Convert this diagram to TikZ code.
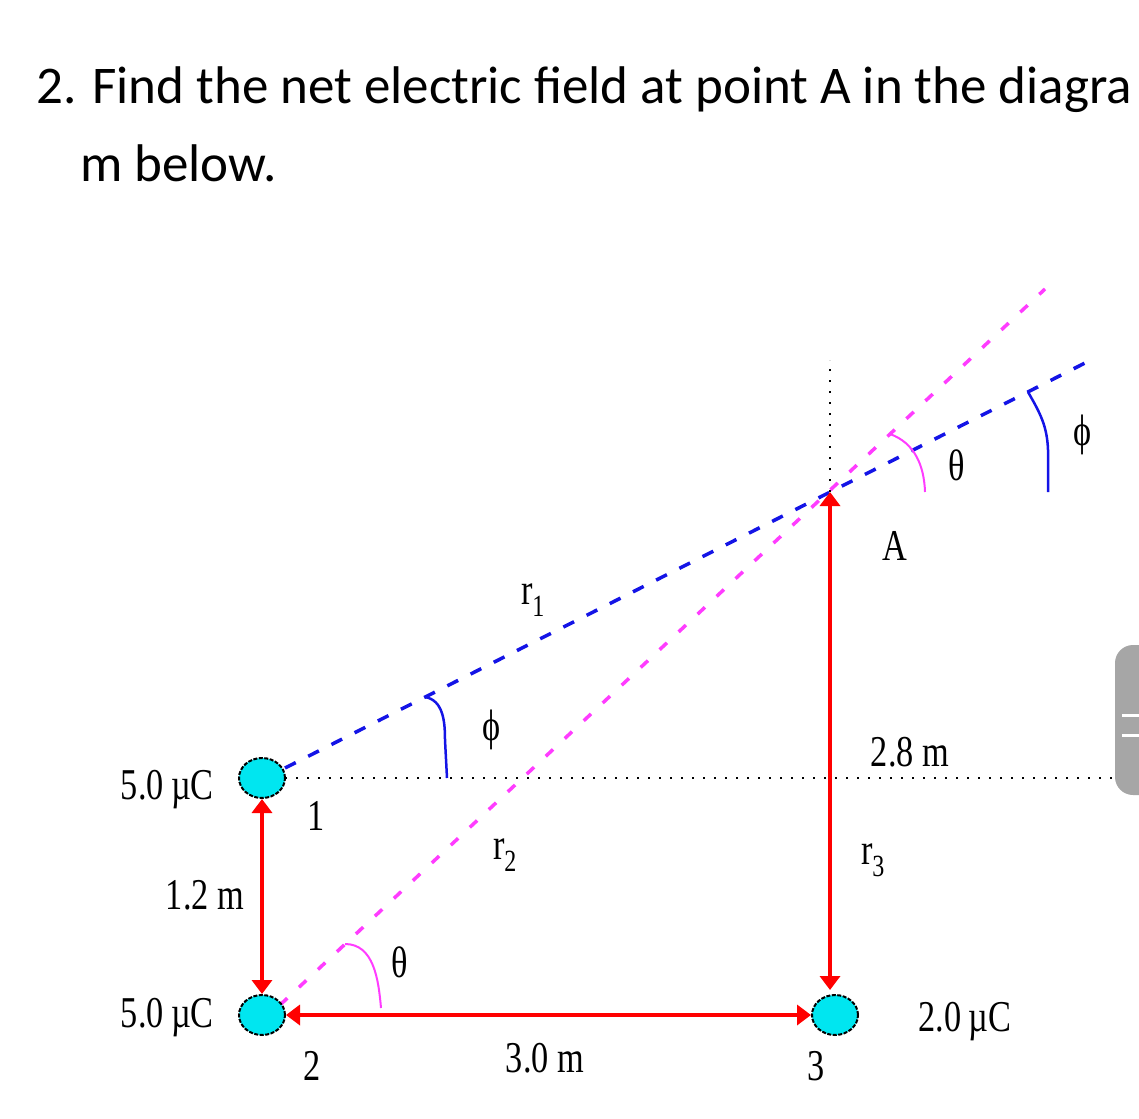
\documentclass[tikz,border=0pt]{standalone}
\usepackage{fontspec}
\setmainfont{Liberation Serif}
\newfontfamily\titlefont{Carlito}
\newfontfamily\lblfont[FakeStretch=0.78]{Liberation Serif}
\usetikzlibrary{arrows.meta,shapes.geometric}
\definecolor{chg}{RGB}{0,230,240}
\definecolor{mag}{RGB}{255,60,255}
\definecolor{blu}{RGB}{20,20,230}
\tikzset{
  charge/.style={ellipse,draw=black,line width=2pt,dash pattern=on 4pt off 1.5pt,fill=chg,minimum width=46pt,minimum height=40pt,inner sep=0pt},
  redarr/.style={draw=red,line width=4pt,{Triangle[length=14pt,width=20pt]}-{Triangle[length=14pt,width=20pt]}},
  lbl/.style={font=\lblfont\fontsize{44}{44}\selectfont,inner sep=0pt},
  bdash/.style={draw=blu,line width=3.5pt,dash pattern=on 12pt off 14pt},
  mdash/.style={draw=mag,line width=3.5pt,dash pattern=on 10pt off 16pt},
  dots/.style={draw=black,line width=2.5pt,dash pattern=on 2pt off 9pt}
}
\begin{document}
\begin{tikzpicture}[x=1pt,y=-1pt]
\useasboundingbox (0,0) rectangle (1139,1118);
\node[anchor=west,font=\titlefont\fontsize{53}{53}\selectfont,inner sep=0pt] (t1) at (36,90) {2. Find the net electric field at point A in the diagra};
\node[anchor=west,font=\titlefont\fontsize{53}{53}\selectfont,inner sep=0pt] (t2) at (80,163) {m below.};
% gray UI element
\fill[gray!70,rounded corners=18pt] (1115,645) rectangle (1160,795);
\draw[white,line width=3pt] (1122,715) -- (1139,715) (1122,735) -- (1139,735);
\coordinate (A) at (830,492);
\coordinate (B1) at (1085,363);
\coordinate (M1) at (1045,289);
\coordinate (D1) at (1115,778);
\coordinate (V1) at (830,360);
% dotted lines
\draw[dots] (285,778) -- (D1);
\draw[dots] (A) -- (V1);
% dashed lines
\draw[bdash] (285,768) -- (B1);
\draw[mdash] (280,1005) -- (M1);
% angle arcs
\draw[blu,line width=2.5pt] (425,697) to[out=-10,in=90] (445,740) -- (447,778);
\draw[mag,line width=2pt] (345,944) to[out=0,in=95] (381,1008);
\draw[mag,line width=2pt] (890,434) to[out=-20,in=92] (925,492);
\draw[blu,line width=2.5pt] (1028,392) to[out=-60,in=92] (1048,450) -- (1048,492);
% charges
\node[charge] (q1) at (262,778) {};
\node[charge] (q2) at (262,1015) {};
\node[charge] (q3) at (835,1015) {};
% red arrows
\draw[redarr] (q1.south) -- (q2.north);
\draw[redarr] (q2.east) -- (q3.west);
\draw[redarr] (A) -- (830,990);
% labels
\node[lbl,anchor=east] (l1) at (214,790) {5.0\,µC};
\node[lbl,anchor=east] (l2) at (214,1018) {5.0\,µC};
\node[lbl] (l3) at (965,1022) {2.0\,µC};
\node[lbl] (n1) at (316,816) {1};
\node[lbl] (n2) at (312,1066) {2};
\node[lbl] (n3) at (816,1066) {3};
\node[lbl] (d12) at (205,895) {1.2 m};
\node[lbl] (d30) at (545,1058) {3.0 m};
\node[lbl] (d28) at (910,752) {2.8 m};
\node[lbl] (la) at (895,546) {A};
\node[lbl] (r1) at (533,600) {r\textsubscript{1}};
\node[lbl] (r2) at (505,855) {r\textsubscript{2}};
\node[lbl] (r3) at (873,860) {r\textsubscript{3}};
\node[lbl] (ph1) at (492,730) {ϕ};
\node[lbl] (th1) at (400,962) {θ};
\node[lbl] (th2) at (957,465) {θ};
\node[lbl] (ph2) at (1083,435) {ϕ};
\end{tikzpicture}
\end{document}
